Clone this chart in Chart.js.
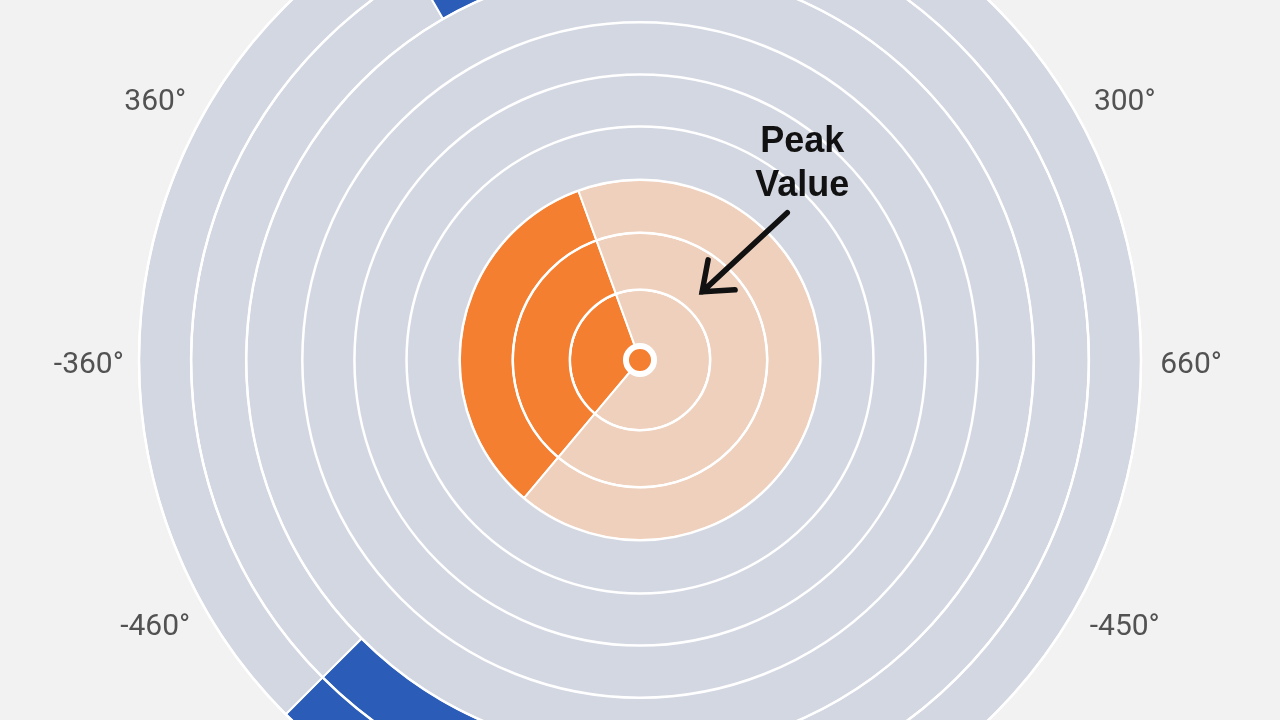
<!DOCTYPE html>
<html>

<head>
    <meta charset="utf-8">
    <title>Concentric rings</title>
    <script src="https://cdn.jsdelivr.net/npm/chart.js@4.4.1/dist/chart.umd.min.js"></script>
    <style>
        html, body { margin: 0; padding: 0; width: 1280px; height: 720px; overflow: hidden; background: #f2f2f2; }
        /* the rings run past the top and bottom of the window, so the canvas is taller than the page */
        #wrap { position: absolute; left: 0; top: -142px; width: 1280px; height: 1004px; }
    </style>
</head>

<body>
    <div id="wrap">
        <canvas id="myChart"></canvas>
    </div>

    <script>
        // segment sizes in degrees, clockwise from each ring's start angle
        var outerRing = [30, 330];
        var secondRing = [25, 105, 20, 210];
        var plainRing = [360];
        var innerRing = [120, 240];
        var coreDot = [360];

        var angleLabels = ['300°', '660°', '-450°', '-460°', '-360°', '360°'];
        var noteText = ['Peak', 'Value'];

        var GREY = '#d3d7e2';
        var BLUE = '#2b5db8';
        var ORANGE = '#f47f30';
        var PEACH = '#efd0bc';

        function ring(values, colors, weight, start) {
            return {
                data: values,
                backgroundColor: colors,
                borderColor: '#ffffff',
                borderWidth: values.length > 1 ? 2 : 0,
                rotation: start || 0,
                weight: weight
            };
        }

        var dot = ring(coreDot, [ORANGE], 14);
        dot.edgeWidth = 6;

        var datasets = [
            ring(outerRing, [BLUE, GREY], 52, 195),
            ring(secondRing, [BLUE, GREY, BLUE, GREY], 55, 200),
            ring(plainRing, [GREY], 56),
            ring(plainRing, [GREY], 52),
            ring(plainRing, [GREY], 52),
            ring(plainRing, [GREY], 53),
            ring(innerRing, [ORANGE, PEACH], 53, 220),
            ring(innerRing, [ORANGE, PEACH], 57, 220),
            ring(innerRing, [ORANGE, PEACH], 56, 220),
            dot
        ];

        // white circles on every ring edge (no seam line like the arc borders give)
        var ringLines = {
            id: 'ringLines',
            afterDatasetsDraw: function(chart) {
                var ctx = chart.ctx;
                ctx.save();
                ctx.strokeStyle = '#ffffff';
                chart.data.datasets.forEach(function(ds, i) {
                    var arc = chart.getDatasetMeta(i).data[0];
                    ctx.lineWidth = ds.edgeWidth || 2.5;
                    ctx.beginPath();
                    ctx.arc(arc.x, arc.y, arc.outerRadius, 0, Math.PI * 2);
                    ctx.stroke();
                });
                ctx.restore();
            }
        };

        // text round the rings and the arrow note
        var ringText = {
            id: 'ringText',
            afterDraw: function(chart, args, opts) {
                var arc = chart.getDatasetMeta(0).data[0];
                var cx = arc.x, cy = arc.y, R = arc.outerRadius;
                var ctx = chart.ctx;
                ctx.save();
                ctx.font = '30px Roboto';
                ctx.fillStyle = '#525252';
                ctx.textAlign = 'center';
                ctx.textBaseline = 'middle';
                angleLabels.forEach(function(t, i) {
                    var a = (opts.angles[i] - 90) * Math.PI / 180;
                    ctx.fillText(t, cx + Math.cos(a) * R * 1.1, cy + Math.sin(a) * R * 1.1 + 5);
                });

                ctx.font = 'bold 36px "Liberation Sans"';
                ctx.fillStyle = '#111111';
                noteText.forEach(function(t, i) {
                    ctx.fillText(t, cx + R * 0.324, cy - R * 0.434 + i * R * 0.086);
                });

                var x1 = cx + R * 0.294, y1 = cy - R * 0.294;
                var x2 = cx + R * 0.124, y2 = cy - R * 0.136;
                ctx.strokeStyle = '#111111';
                ctx.lineWidth = 5.5;
                ctx.lineCap = 'round';
                ctx.beginPath();
                ctx.moveTo(x1, y1);
                ctx.lineTo(x2, y2);
                ctx.moveTo(x2 + 6, y2 - 32);
                ctx.lineTo(x2, y2);
                ctx.lineTo(x2 + 33, y2 - 2);
                ctx.stroke();
                ctx.restore();
            }
        };

        var ctx = document.getElementById('myChart').getContext('2d');
        var myChart = new Chart(ctx, {
            type: 'doughnut',
            data: {
                labels: ['a', 'b', 'c', 'd'],
                datasets: datasets
            },
            options: {
                responsive: true,
                maintainAspectRatio: false,
                animation: false,
                cutout: 0,
                layout: { padding: 0 },
                events: [],
                plugins: {
                    legend: { display: false },
                    tooltip: { enabled: false },
                    ringText: { angles: [61.6, 90, 118.4, 241.6, 270, 298.4] }
                }
            },
            plugins: [ringLines, ringText]
        });
    </script>
</body>

</html>
